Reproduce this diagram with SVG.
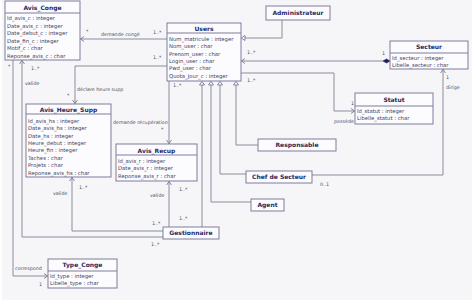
<svg xmlns="http://www.w3.org/2000/svg" width="474" height="305" viewBox="0 0 474 305">
<style>
.bx{fill:#fcfcff;stroke:#7c7c9c;stroke-width:1}
.sep{stroke:#7c7c9c;stroke-width:1}
.t{font-family:"DejaVu Sans",sans-serif;font-size:6px;font-weight:bold;fill:#2a2a5c;text-anchor:middle}
.a{font-family:"DejaVu Sans",sans-serif;font-size:5.3px;fill:#404060}
.l{font-family:"DejaVu Sans",sans-serif;font-size:4.8px;fill:#505060}
.c{fill:none;stroke:#8c8c9c;stroke-width:1}
.arr{fill:none;stroke:#6c6c8c;stroke-width:0.8}
.tri{fill:#fcfcff;stroke:#6c6c8c;stroke-width:0.8}
</style>
<rect x="0" y="0" width="474" height="305" fill="#ffffff"/>
<rect x="2" y="0" width="470" height="300" fill="#f6f6f9"/>

<g id="connectors">
  <!-- demande conge -->
  <path class="c" d="M167,39 H80"/>
  <path class="arr" d="M84,36.5 L80.5,39 L84,41.5"/>
  <!-- declare heure supp -->
  <path class="c" d="M167,66 H75 V104"/>
  <path class="arr" d="M72.5,100 L75,103.5 L77.5,100"/>
  <!-- demande recuperation -->
  <path class="c" d="M169,81 V144"/>
  <path class="arr" d="M166.5,140 L169,143.5 L171.5,140"/>
  <!-- Administrateur inheritance -->
  <path class="c" d="M282,20 V38 H245"/>
  <path class="tri" d="M245,35.5 L241.3,38 L245,40.5 Z"/>
  <!-- Users - Secteur -->
  <path class="c" d="M241,61 H383"/>
  <path class="arr" d="M245,58.5 L241.5,61 L245,63.5"/>
  <path d="M390,61 L386.5,59 L383,61 L386.5,63 Z" fill="#1e1e5a" stroke="#1e1e5a" stroke-width="0.6"/>
  <!-- Users - Statut -->
  <path class="c" d="M241,73 H334 V111 H355"/>
  <path class="arr" d="M351,108.5 L354.5,111 L351,113.5"/>
  <!-- dirige -->
  <path class="c" d="M312,175 H443 V69"/>
  <path class="arr" d="M440.5,73 L443,69.5 L445.5,73"/>
  <!-- inheritance lines -->
  <path class="c" d="M236,85 V145 H258"/>
  <path class="c" d="M220,85 V174 H246"/>
  <path class="c" d="M211,85 V202 H251"/>
  <path class="c" d="M202,85 V227"/>
  <path class="tri" d="M236,81.4 L233.5,85 L238.5,85 Z"/>
  <path class="tri" d="M220,81.4 L217.5,85 L222.5,85 Z"/>
  <path class="tri" d="M211,81.4 L208.5,85 L213.5,85 Z"/>
  <path class="tri" d="M202,81.4 L199.5,85 L204.5,85 Z"/>
  <!-- Avis_Recup - Gestionnaire -->
  <path class="c" d="M169,181 V227"/>
  <path class="arr" d="M166.5,185 L169,181.5 L171.5,185"/>
  <!-- Avis_Heure_Supp - Gestionnaire -->
  <path class="c" d="M72,177 V231 H163"/>
  <path class="arr" d="M69.5,181 L72,177.5 L74.5,181"/>
  <!-- Avis_Conge - Gestionnaire -->
  <path class="c" d="M22,60 V237 H163"/>
  <path class="arr" d="M19.5,64 L22,60.5 L24.5,64"/>
  <!-- correspond -->
  <path class="c" d="M13,60 V276 H48"/>
  <path class="arr" d="M44,273.5 L47.5,276 L44,278.5"/>

  <!-- labels -->
  <text class="l" x="86" y="33">*</text>
  <text class="l" x="101" y="35.5">demande congé</text>
  <text class="l" x="153" y="34">1..*</text>
  <text class="l" x="153" y="59">1..*</text>
  <text class="l" x="77" y="90.5">déclare heure supp</text>
  <text class="l" x="67" y="96.5">*</text>
  <text class="l" x="173" y="87">1..*</text>
  <text class="l" x="113" y="124">demande récupération</text>
  <text class="l" x="161" y="131">*</text>
  <text class="l" x="247" y="54">1..*</text>
  <text class="l" x="247" y="82">1..*</text>
  <text class="l" x="382" y="54.5">1</text>
  <text class="l" x="351" y="104.5">1</text>
  <text class="l" x="334" y="122.5">possède</text>
  <text class="l" x="446" y="78.5">1</text>
  <text class="l" x="446" y="89">dirige</text>
  <text class="l" x="320" y="186">0..1</text>
  <text class="l" x="179" y="191">1..*</text>
  <text class="l" x="150" y="196.5">valide</text>
  <text class="l" x="179" y="220">1..*</text>
  <text class="l" x="152" y="225">1..*</text>
  <text class="l" x="79" y="189">1..*</text>
  <text class="l" x="53" y="195">valide</text>
  <text class="l" x="31" y="70">1..*</text>
  <text class="l" x="25" y="85">valide</text>
  <text class="l" x="151" y="246">1..*</text>
  <text class="l" x="8" y="68">*</text>
  <text class="l" x="15" y="269.5">correspond</text>
  <text class="l" x="39" y="286">1</text>
</g>

<g id="avis_conge">
  <rect class="bx" x="5" y="1" width="75" height="59"/>
  <text class="t" x="42.5" y="9.5">Avis_Conge</text>
  <line class="sep" x1="5" y1="13" x2="80" y2="13"/>
  <text class="a" x="7" y="20.1">Id_avis_c : integer</text>
  <text class="a" x="7" y="27.6">Date_avis_c : integer</text>
  <text class="a" x="7" y="35.1">Date_debut_c : integer</text>
  <text class="a" x="7" y="42.5">Date_fin_c : integer</text>
  <text class="a" x="7" y="50">Motif_c : char</text>
  <text class="a" x="7" y="57.5">Reponse_avis_c : char</text>
</g>

<g id="users">
  <rect class="bx" x="167" y="23" width="74" height="58"/>
  <text class="t" x="204" y="31">Users</text>
  <line class="sep" x1="167" y1="33" x2="241" y2="33"/>
  <text class="a" x="169" y="40.8">Num_matricule : integer</text>
  <text class="a" x="169" y="48.2">Nom_user : char</text>
  <text class="a" x="169" y="55.6">Prenom_user : char</text>
  <text class="a" x="169" y="63">Login_user : char</text>
  <text class="a" x="169" y="70.4">Pwd_user : char</text>
  <text class="a" x="169" y="77.8">Quota_Jour_c : integer</text>
</g>

<g id="administrateur">
  <rect class="bx" x="266" y="6" width="64" height="14"/>
  <text class="t" x="298" y="15">Administrateur</text>
</g>

<g id="secteur">
  <rect class="bx" x="390" y="41" width="78" height="28"/>
  <text class="t" x="429" y="49">Secteur</text>
  <line class="sep" x1="390" y1="53" x2="468" y2="53"/>
  <text class="a" x="392" y="60">Id_secteur : integer</text>
  <text class="a" x="392" y="67">Libelle_secteur : char</text>
</g>

<g id="statut">
  <rect class="bx" x="355" y="93" width="78" height="31"/>
  <text class="t" x="394" y="102">Statut</text>
  <line class="sep" x1="355" y1="106" x2="433" y2="106"/>
  <text class="a" x="357" y="113">Id_statut : integer</text>
  <text class="a" x="357" y="120">Libelle_statut : char</text>
</g>

<g id="avis_heure_supp">
  <rect class="bx" x="26" y="104" width="85" height="73"/>
  <text class="t" x="68.5" y="112">Avis_Heure_Supp</text>
  <line class="sep" x1="26" y1="114" x2="111" y2="114"/>
  <text class="a" x="28" y="122.8">Id_avis_hs : integer</text>
  <text class="a" x="28" y="130.2">Date_avis_hs : integer</text>
  <text class="a" x="28" y="137.6">Date_hs : integer</text>
  <text class="a" x="28" y="145">Heure_debut : integer</text>
  <text class="a" x="28" y="152.4">Heure_fin : integer</text>
  <text class="a" x="28" y="159.8">Taches : char</text>
  <text class="a" x="28" y="167.2">Projets : char</text>
  <text class="a" x="28" y="174.6">Reponse_avis_hs : char</text>
</g>

<g id="avis_recup">
  <rect class="bx" x="116" y="144" width="81" height="37"/>
  <text class="t" x="156.5" y="153">Avis_Recup</text>
  <line class="sep" x1="116" y1="155" x2="197" y2="155"/>
  <text class="a" x="118" y="162.8">Id_avis_r : integer</text>
  <text class="a" x="118" y="170.2">Date_avis_r : integer</text>
  <text class="a" x="118" y="177.6">Reponse_avis_r : char</text>
</g>

<g id="responsable">
  <rect class="bx" x="258" y="139" width="78" height="12"/>
  <text class="t" x="297" y="147.3">Responsable</text>
</g>

<g id="chef_de_secteur">
  <rect class="bx" x="246" y="171" width="66" height="12"/>
  <text class="t" x="279" y="179.3">Chef de Secteur</text>
</g>

<g id="agent">
  <rect class="bx" x="251" y="199" width="33" height="12"/>
  <text class="t" x="267.5" y="207.3">Agent</text>
</g>

<g id="gestionnaire">
  <rect class="bx" x="163" y="227" width="56" height="12"/>
  <text class="t" x="191" y="235.3">Gestionnaire</text>
</g>

<g id="type_conge">
  <rect class="bx" x="48" y="259" width="69" height="29"/>
  <text class="t" x="82.5" y="267">Type_Conge</text>
  <line class="sep" x1="48" y1="271" x2="117" y2="271"/>
  <text class="a" x="50" y="278">Id_type : integer</text>
  <text class="a" x="50" y="285">Libelle_type : char</text>
</g>
</svg>
